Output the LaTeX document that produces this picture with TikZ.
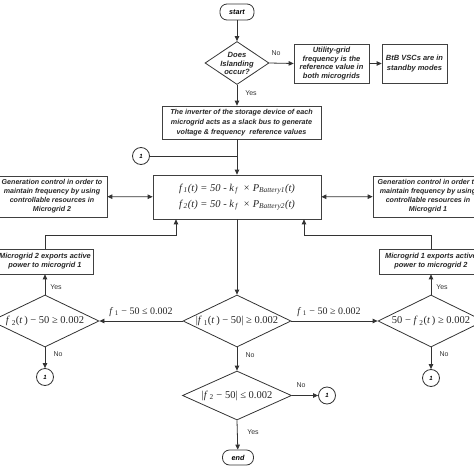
\documentclass[tikz,border=0pt]{standalone}
\usepackage{fontspec}
\setmainfont{Liberation Sans}
\newfontfamily\tms{Liberation Serif}
\usetikzlibrary{shapes.geometric,arrows.meta}
\newcommand{\itv}[1]{\textit{#1}}
\newcommand{\sbs}[1]{\textsubscript{#1}}
\begin{document}
\begin{tikzpicture}[x=1pt,y=-1pt,
  line width=0.8pt, draw=black!80,
  arr/.style={-{Triangle[length=5pt,width=4.5pt]}},
  darr/.style={{Triangle[length=5pt,width=4.5pt]}-{Triangle[length=5pt,width=4.5pt]}},
  box/.style={draw=black!75, line width=0.7pt, inner sep=1pt, align=center,
    font=\fontsize{7.2}{9}\selectfont\bfseries\itshape, text=black!85},
  term/.style={draw=black!80, line width=0.8pt, rounded corners=7pt, align=center,
    font=\fontsize{7.2}{8}\selectfont\bfseries\itshape, inner sep=0pt},
  diam/.style={draw=black!80, line width=0.8pt, diamond, inner sep=0pt},
  dtext/.style={align=center, font=\fontsize{10.5}{12}\selectfont\tms, text=black!85},
  conn/.style={draw=black!80, line width=0.8pt, circle, minimum size=17pt, inner sep=0pt,
    font=\fontsize{6}{6}\selectfont\bfseries\itshape},
  lab/.style={font=\fontsize{7}{7}\selectfont, text=black!80, inner sep=1pt},
  clab/.style={font=\fontsize{10}{12}\selectfont\tms, text=black!85, inner sep=1pt}
]
\useasboundingbox (0,0) rectangle (474,474);
\clip (0,0) rectangle (474,474);

% top part
\node[term, minimum width=34pt, minimum height=16pt] (start) at (237,12) {start};
\node[diam, minimum width=64pt, minimum height=43pt] (d1) at (237,63) {};
\node[box, draw=none, font=\fontsize{7.6}{8.6}\selectfont\bfseries\itshape] (d1t) at (237,63.5) {Does\\Islanding\\occur?};
\node[box, minimum width=75pt, minimum height=39pt, font=\fontsize{7.5}{8.7}\selectfont\bfseries\itshape] (u) at (331.5,63.5) {Utility-grid\\frequency is the\\reference value in\\both microgrids};
\node[box, minimum width=65pt, minimum height=39pt, font=\fontsize{7.5}{9.2}\selectfont\bfseries\itshape] (b) at (414.5,63.5) {BtB VSCs are in\\standby modes};
\node[lab] (n1) at (276,53) {No};
\node[lab] (y1) at (251,93) {Yes};
\node[box, minimum width=159pt, minimum height=33pt, font=\fontsize{7.2}{9.8}\selectfont\bfseries\itshape] (inv) at (241.5,122.5) {The inverter of the storage device of each\\microgrid acts as a slack bus to generate\\voltage \& frequency\ \ reference values};
\node[conn] (c0) at (141,156) {1};

% formula box
\node[box, minimum width=168pt, minimum height=44pt, font=\fontsize{10.5}{16}\selectfont\tms\itshape] (F) at (237,197)
 {\itv{f}\,\sbs{1}\itv{(t) = 50 - k}\sbs{\,f}\ \ ×\ \itv{P}\sbs{Battery1}\itv{(t)}\\
  \itv{f}\,\sbs{2}\itv{(t) = 50 - k}\sbs{\,f}\ \ ×\ \itv{P}\sbs{Battery2}\itv{(t)}};
\node[box, minimum width=110pt, minimum height=41pt, font=\fontsize{7.1}{9}\selectfont\bfseries\itshape] (L) at (52,196.5) {Generation control in order to\\maintain frequency by using\\controllable resources in\\Microgrid 2};
\node[box, minimum width=110pt, minimum height=41pt, font=\fontsize{7.1}{9}\selectfont\bfseries\itshape] (R) at (428,196.5) {Generation control in order to\\maintain frequency by using\\controllable resources in\\Microgrid 1};

% export boxes
\node[box, minimum width=96pt, minimum height=25pt, font=\fontsize{7.4}{9}\selectfont\bfseries\itshape] (BL) at (45,261.5) {Microgrid 2 exports active\\power to microgrid 1};
\node[box, minimum width=104pt, minimum height=25pt, font=\fontsize{7.4}{9}\selectfont\bfseries\itshape] (BR) at (431,261.5) {Microgrid 1 exports active\\power to microgrid 2};

% diamonds
\node[diam, minimum width=108pt, minimum height=52pt] (dl) at (45,321) {};
\node[dtext] at (dl) {\itv{f}\,\sbs{2}(\itv{t}\,) − 50 ≥ 0.002};
\node[diam, minimum width=108pt, minimum height=52pt] (dc) at (237,321) {};
\node[dtext] at (dc) {|\itv{f}\,\sbs{1}(\itv{t}\,) − 50| ≥ 0.002};
\node[diam, minimum width=106pt, minimum height=52pt] (dr) at (431,321) {};
\node[dtext] at (dr) {50 − \itv{f}\,\sbs{2}(\itv{t}\,) ≥ 0.002};
\node[diam, minimum width=109pt, minimum height=49pt] (db) at (237,395.5) {};
\node[dtext] at (db) {|\itv{f}\,\sbs{2} − 50| ≤ 0.002};

\node[conn] (cl) at (45,377) {1};
\node[conn] (cr) at (431,378) {1};
\node[conn] (cb) at (327,395.5) {1};
\node[term, minimum width=31pt, minimum height=15pt] (end) at (238,457.5) {end};

\node[lab] (y2) at (56,287) {Yes};
\node[lab] (n2) at (58,354) {No};
\node[lab] (y3) at (442,287) {Yes};
\node[lab] (n3) at (444,354) {No};
\node[lab] (n4) at (250,355) {No};
\node[lab] (n5) at (301,385) {No};
\node[lab] (y5) at (253,432) {Yes};
\node[clab] (t1) at (141,312) {\itv{f}\,\sbs{1} − 50 ≤ 0.002};
\node[clab] (t2) at (329,312) {\itv{f}\,\sbs{1} − 50 ≥ 0.002};

\coordinate (kl) at (176,235);
\coordinate (kr) at (304,235);

% connectors
\draw[arr] (start) -- (d1);
\draw[arr] (d1.east) -- (u.west);
\draw[arr] (u) -- (b);
\draw[arr] (d1.south) -- (d1.south |- inv.north);
\draw[arr] (inv.south -| d1.south) -- (d1.south |- F.north);
\draw (c0) -- (c0 -| d1.south);
\draw[darr] (L) -- (F);
\draw[darr] (F) -- (R);
\draw[arr] (F.south) -- (dc.north);
\draw[arr] (dc.west) -- (dl.east);
\draw[arr] (dc.east) -- (dr.west);
\draw[arr] (dl.north) -- (BL.south);
\draw[arr] (dr.north) -- (BR.south);
\draw[arr] (BL.north) |- (kl) -- (kl |- F.south);
\draw[arr] (BR.north) |- (kr) -- (kr |- F.south);
\draw[arr] (dl.south) -- (cl);
\draw[arr] (dr.south) -- (cr);
\draw[arr] (dc.south) -- (db.north);
\draw[arr] (db.east) -- (cb);
\draw[arr] (db.south) -- (end);
\end{tikzpicture}
\end{document}
